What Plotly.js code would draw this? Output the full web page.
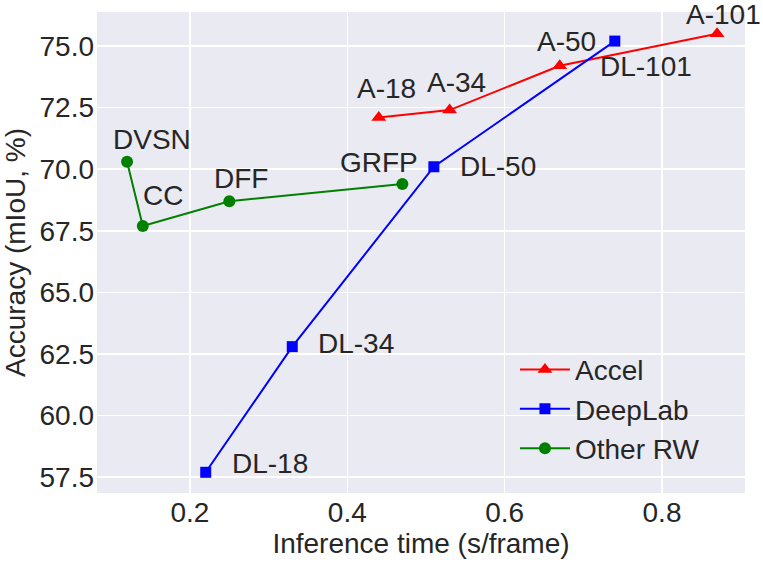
<!DOCTYPE html>
<html>
<head>
<meta charset="utf-8">
<script src="https://cdn.plot.ly/plotly-3.0.1.min.js"></script>
<style>html,body{margin:0;padding:0;background:#fff;}#chart{width:763px;height:562px;}</style>
</head>
<body>
<div id="chart"></div>
<script>
// ---- data ----
var accelX = [0.44, 0.53, 0.67, 0.87];
var accelY = [72.1, 72.4, 74.2, 75.5];
var accelLabels = ["A-18", "A-34", "A-50", "A-101"];

var deeplabX = [0.22, 0.33, 0.51, 0.74];
var deeplabY = [57.7, 62.8, 70.1, 75.2];
var deeplabLabels = ["DL-18", "DL-34", "DL-50", "DL-101"];

var otherX = [0.12, 0.14, 0.25, 0.47];
var otherY = [70.3, 67.7, 68.7, 69.4];
var otherLabels = ["DVSN", "CC", "DFF", "GRFP"];

var seriesNames = ["Accel", "DeepLab", "Other RW"];
var yTicks = [57.5, 60.0, 62.5, 65.0, 67.5, 70.0, 72.5, 75.0];
var xTicks = [0.2, 0.4, 0.6, 0.8];

// ---- label placement (pixel offsets, styling only) ----
var labelOffsets = {
  "A-18": [7.5, 29, "center"], "A-34": [7, 27.5, "center"], "A-50": [6.5, 24, "center"], "A-101": [6, 19, "center"],
  "DL-18": [24, 8.5, "left"], "DL-34": [24, 3, "left"], "DL-50": [24, 0, "left"], "DL-101": [31, -25.5, "center"],
  "DVSN": [25, 22, "center"], "CC": [20, 30, "center"], "DFF": [12, 23, "center"], "GRFP": [-23, 22, "center"]
};

var FONT = "Liberation Sans, Arial, sans-serif";
var TXT = "#262626";
var FS = 28;

var traces = [
  {x: accelX, y: accelY, name: seriesNames[0], mode: "lines+markers", type: "scatter",
   line: {color: "#ff0000", width: 2}, marker: {symbol: "triangle-up", size: 13, color: "#ff0000"}},
  {x: deeplabX, y: deeplabY, name: seriesNames[1], mode: "lines+markers", type: "scatter",
   line: {color: "#0000ff", width: 2}, marker: {symbol: "square", size: 11, color: "#0000ff"}},
  {x: otherX, y: otherY, name: seriesNames[2], mode: "lines+markers", type: "scatter",
   line: {color: "#008000", width: 2}, marker: {symbol: "circle", size: 12, color: "#008000"}}
];

var annotations = [];
function addLabels(xs, ys, labels) {
  for (var i = 0; i < xs.length; i++) {
    var o = labelOffsets[labels[i]];
    annotations.push({x: xs[i], y: ys[i], xref: "x", yref: "y", text: labels[i], showarrow: false,
      xanchor: o[2], yanchor: "middle", xshift: o[0], yshift: o[1],
      font: {family: FONT, size: FS, color: TXT}});
  }
}
addLabels(accelX, accelY, accelLabels);
addLabels(deeplabX, deeplabY, deeplabLabels);
addLabels(otherX, otherY, otherLabels);

var layout = {
  width: 763, height: 562,
  margin: {l: 97, r: 18, t: 12, b: 69},
  paper_bgcolor: "#ffffff",
  plot_bgcolor: "#eaeaf2",
  font: {family: FONT, size: FS, color: TXT},
  showlegend: true,
  legend: {x: 0.645, y: 0.04, xanchor: "left", yanchor: "bottom", bgcolor: "rgba(0,0,0,0)",
    font: {family: FONT, size: FS, color: TXT}, tracegroupgap: 0, itemwidth: 50},
  xaxis: {range: [0.0818, 0.9055], tickvals: xTicks, tickformat: ".1f", showgrid: true, gridcolor: "#ffffff",
    gridwidth: 1.5, zeroline: false, showline: false, ticks: "", ticklen: 0,
    title: {text: "Inference time (s/frame)", font: {family: FONT, size: FS, color: TXT}, standoff: 4}},
  yaxis: {range: [56.86, 76.38], tickvals: yTicks, tickformat: ".1f", showgrid: true, gridcolor: "#ffffff",
    gridwidth: 1.5, zeroline: false, showline: false, ticks: "", ticklen: 0, ticklabelstandoff: 2,
    title: {text: "Accuracy (mIoU, %)", font: {family: FONT, size: FS, color: TXT}, standoff: 10}},
  annotations: annotations
};

Plotly.newPlot("chart", traces, layout, {displayModeBar: false, staticPlot: true});
</script>
</body>
</html>
